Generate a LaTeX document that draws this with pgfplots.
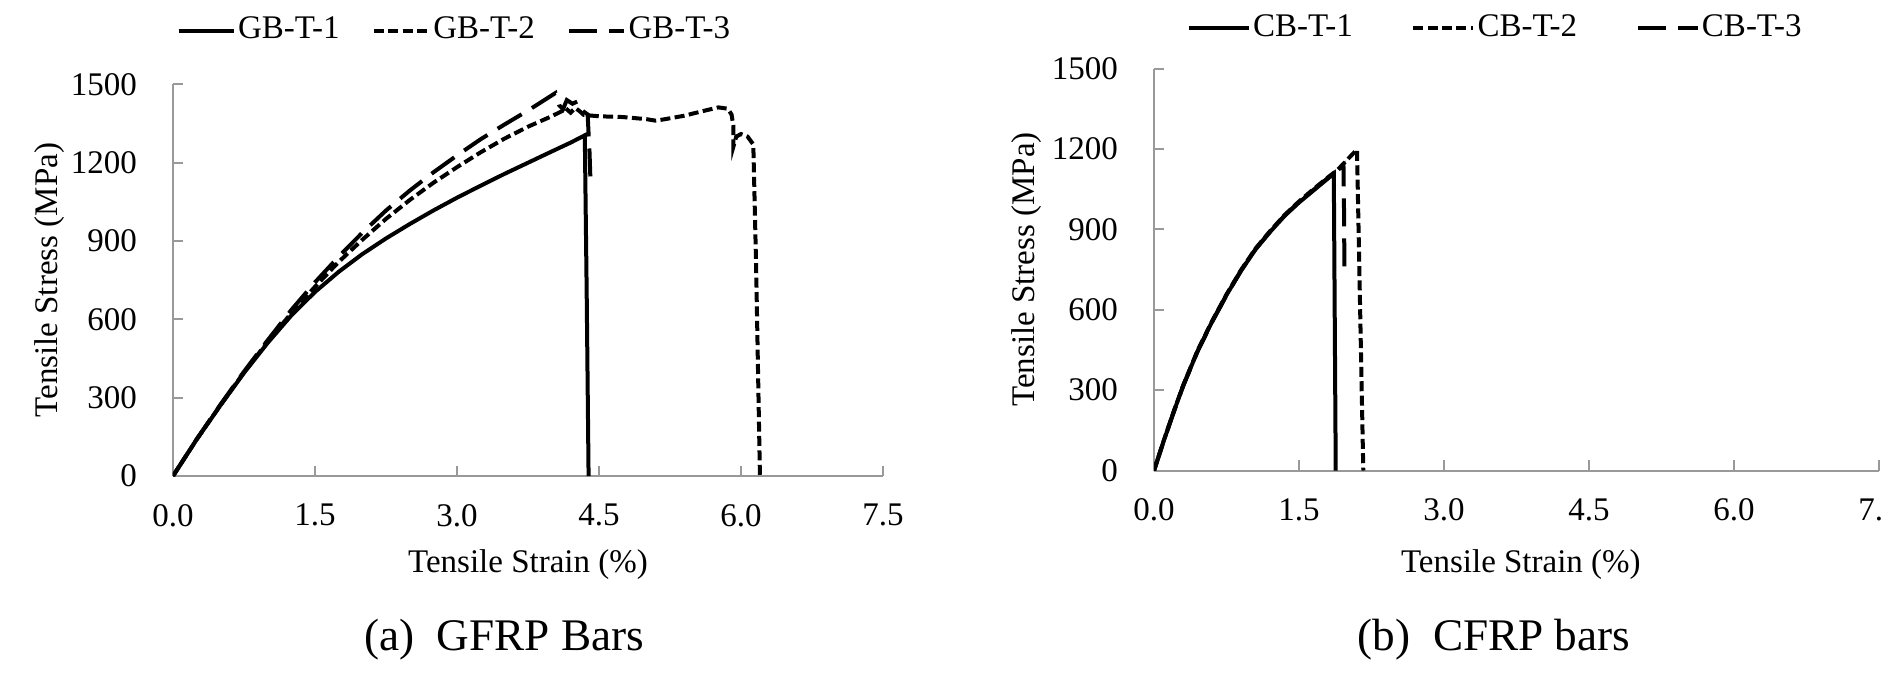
\documentclass[border=0pt]{standalone}
\usepackage{fontspec}
\setmainfont{Liberation Serif}
\usepackage{pgfplots}
\pgfplotsset{compat=1.18}
\begin{document}
\begin{tikzpicture}[x=1pt,y=1pt]
\useasboundingbox (0,0) rectangle (470.75,172.5);
\pgfplotsset{
  panel/.style={
    scale only axis,
    axis x line*=bottom, axis y line*=left,
    axis line style={draw=black!40, line width=0.5pt},
    xmin=0, xmax=7.5, ymin=0, ymax=1500,
    xtick={0,1.5,3,4.5,6,7.5}, ytick={0,300,600,900,1200,1500},
    tick align=inside, major tick length=2.6pt,
    tick style={draw=black!40, line width=0.5pt},
    /pgf/number format/assume math mode=true,
    ticklabel style={font=\fontsize{8.25}{9.9}\selectfont, /pgf/number format/1000 sep={}},
    xticklabel style={/pgf/number format/fixed, /pgf/number format/fixed zerofill, /pgf/number format/precision=1, yshift=-3.5pt},
    yticklabel style={xshift=-5.5pt},
    label style={font=\fontsize{8.25}{9.9}\selectfont},
    legend columns=3,
    legend style={draw=none, fill=none, inner sep=0pt, font=\fontsize{8.25}{9.9}\selectfont, cells={anchor=west}, nodes={inner sep=0.6pt}},
  },
  s1/.style={black, line width=1pt},
  s2/.style={black, line width=1pt, dash pattern=on 2.5pt off 1.1pt},
  s3/.style={black, line width=1pt, dash pattern=on 7pt off 3pt},
}
% ---------- (a) GFRP ----------
\begin{axis}[panel,
  at={(43.25pt,53.5pt)}, anchor=south west,
  width=177.5pt, height=97.9pt,
  xlabel={Tensile Strain (\%)}, ylabel={Tensile Stress (MPa)},
  xlabel style={at={(axis description cs:0.5,-0.227)}, anchor=center},
  ylabel style={at={(axis description cs:-0.1732,0.5)}, anchor=center, rotate=0},
  legend image code/.code={\draw[#1] (0pt,0pt) -- (13.75pt,0pt);},
  legend style={at={(axis description cs:0.004,1.137)}, anchor=west,
    /tikz/every even column/.append style={column sep=7.5pt}},
]
\addplot[s1] coordinates {(0,0)(0.25,140)(0.5,270)(0.75,395)(1.0,510)(1.25,615)(1.5,705)(1.75,782)(2.0,850)(2.25,910)(2.5,965)(2.75,1017)(3.0,1066)(3.25,1112)(3.5,1157)(3.75,1200)(4.0,1243)(4.2,1277)(4.35,1305)(4.37,700)(4.39,0)};
\addlegendentry{GB-T-1}
\addplot[s2] coordinates {(0,0)(0.25,140)(0.5,271)(0.75,397)(1.0,514)(1.25,624)(1.5,725)(1.75,820)(2.0,905)(2.25,985)(2.5,1057)(2.75,1123)(3.0,1183)(3.25,1240)(3.5,1292)(3.75,1338)(4.0,1378)(4.1,1396)(4.15,1408)(4.2,1392)(4.25,1410)(4.3,1396)(4.34,1383)(4.5,1378)(4.75,1375)(5.0,1367)(5.1,1361)(5.2,1367)(5.4,1380)(5.6,1398)(5.76,1412)(5.86,1407)(5.9,1385)(5.92,1340)(5.92,1262)(5.95,1300)(6.0,1310)(6.07,1300)(6.13,1270)(6.16,800)(6.2,0)};
\addlegendentry{GB-T-2}
\addplot[s3] coordinates {(0,0)(0.25,141)(0.5,273)(0.75,400)(1.0,520)(1.25,636)(1.5,742)(1.75,840)(2.0,932)(2.25,1017)(2.5,1093)(2.75,1163)(3.0,1228)(3.25,1290)(3.5,1346)(3.75,1400)(4.04,1467)(4.08,1420)(4.12,1405)(4.16,1440)(4.22,1426)(4.28,1436)(4.33,1398)(4.38,1385)(4.40,1240)(4.41,1130)};
\addlegendentry{GB-T-3}
\end{axis}
% ---------- (b) CFRP ----------
\begin{axis}[panel,
  at={(288.5pt,54.875pt)}, anchor=south west,
  width=181.25pt, height=100.5pt,
  xlabel={Tensile Strain (\%)}, ylabel={Tensile Stress (MPa)},
  xlabel style={at={(axis description cs:0.506,-0.235)}, anchor=center},
  ylabel style={at={(axis description cs:-0.1752,0.5)}, anchor=center, rotate=0},
  legend image code/.code={\draw[#1] (0pt,0pt) -- (15pt,0pt);},
  legend style={at={(axis description cs:0.044,1.10)}, anchor=west,
    /tikz/every even column/.append style={column sep=14pt}},
]
\addplot[s1] coordinates {(0,0)(0.1,110)(0.2,215)(0.3,315)(0.45,445)(0.6,555)(0.75,655)(0.9,745)(1.05,825)(1.2,890)(1.35,950)(1.5,1000)(1.65,1045)(1.8,1090)(1.86,1108)(1.88,0)};
\addlegendentry{CB-T-1}
\addplot[s2] coordinates {(0,0)(0.1,111)(0.2,216)(0.3,316)(0.45,447)(0.6,557)(0.75,657)(0.9,748)(1.05,828)(1.2,893)(1.35,953)(1.5,1004)(1.65,1050)(1.8,1094)(1.9,1122)(2.0,1160)(2.1,1198)(2.165,0)};
\addlegendentry{CB-T-2}
\addplot[s3] coordinates {(0,0)(0.1,109)(0.2,214)(0.3,314)(0.45,444)(0.6,554)(0.75,654)(0.9,746)(1.05,826)(1.2,891)(1.35,951)(1.5,1002)(1.65,1047)(1.8,1092)(1.9,1120)(1.96,1140)(1.965,1000)(1.97,750)};
\addlegendentry{CB-T-3}
\end{axis}
\node[font=\fontsize{11.3}{13.5}\selectfont] at (126,12.5) {(a)~~GFRP Bars};
\node[font=\fontsize{11.3}{13.5}\selectfont] at (373.5,12.5) {(b)~~CFRP bars};
\end{tikzpicture}
\end{document}
